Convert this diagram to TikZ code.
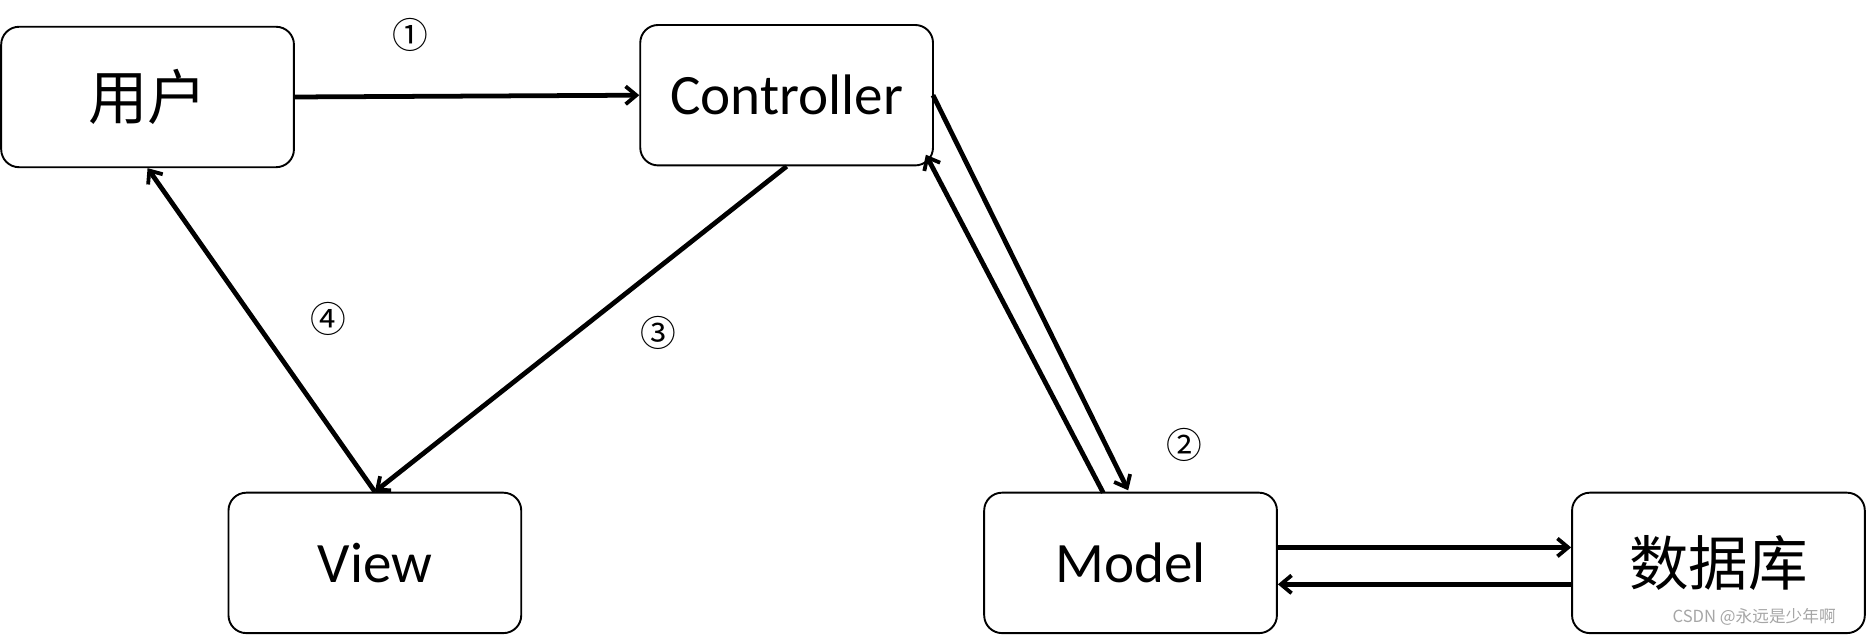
\documentclass[tikz,border=0pt]{standalone}
\usepackage{fontspec}
\setmainfont{Carlito}
\newfontfamily\cjk{Noto Sans CJK SC}
\usetikzlibrary{arrows.meta}
\begin{document}
\begin{tikzpicture}[x=1pt,y=-1pt,
  box/.style={draw,line width=1.6pt,rounded corners=15pt,minimum width=246pt,minimum height=118pt,inner sep=0pt},
  conn/.style={line width=4pt,-{Straight Barb[length=9pt,width=15pt,line width=3.2pt]}},
  num/.style={font=\cjk\fontsize{30}{34}\selectfont}]
\useasboundingbox (0,0) rectangle (1568,535);
\node[box] (u) at (124,81.5) {\cjk\fontsize{50}{56}\selectfont 用户};
\node[box] (c) at (661,80) {\fontsize{48}{54}\selectfont Controller};
\node[box] (v) at (315,473) {\fontsize{48}{54}\selectfont View};
\node[box] (m) at (950,473) {\fontsize{48}{54}\selectfont Model};
\node[box] (d) at (1444,473) {\cjk\fontsize{50}{56}\selectfont 数据库};
\coordinate (c1) at (784,80);
\coordinate (c2) at (778,130);
\coordinate (m1) at (948,412);
\coordinate (m2) at (927,414);
\draw[conn] (u.east) -- (c.west);
\draw[conn] (c.south) -- (v.north);
\draw[conn] (v.north) -- (u.south);
\draw[conn] (c1) -- (m1);
\draw[conn] (m2) -- (c2);
\draw[conn] (m.east|-0,460) -- (d.west|-0,460);
\draw[conn] (d.west|-0,491) -- (m.east|-0,491);
\node[num] (n1) at (345,29) {①};
\node[num] (n2) at (995,374) {②};
\node[num] (n3) at (553,280) {③};
\node[num] (n4) at (276,268) {④};
\node[text=gray!70,font=\cjk\fontsize{14}{16}\selectfont] (w) at (1474,518) {CSDN @永远是少年啊};
\end{tikzpicture}
\end{document}
